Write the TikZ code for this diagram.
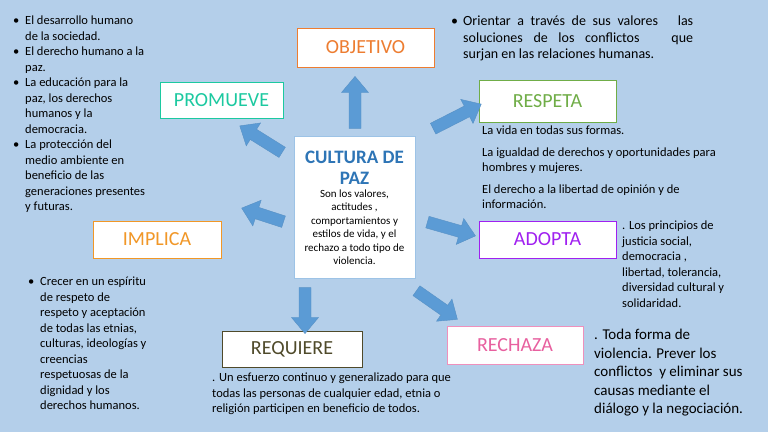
\documentclass[tikz,border=0pt]{standalone}
\usepackage{fontspec}
\setmainfont{Carlito}
\usetikzlibrary{shapes.arrows}
\definecolor{fondo}{HTML}{B4CFEA}
\definecolor{flecha}{HTML}{5B9BD5}
\definecolor{naranja}{HTML}{ED7D31}
\definecolor{verde}{HTML}{70AD47}
\definecolor{turquesa}{HTML}{1CC9A0}
\definecolor{morado}{HTML}{A020F0}
\definecolor{rosa}{HTML}{E8609F}
\definecolor{oliva}{HTML}{4F4A2A}
\definecolor{azul}{HTML}{2E75B6}
\newcommand{\vineta}{\makebox[12pt][l]{\textbullet}}
\newcommand{\sangria}{\hspace*{12pt}}
\tikzset{
  caja/.style={draw=#1,fill=white,line width=1pt,text=#1,font=\fontsize{20}{22}\selectfont,inner sep=0pt},
  flechaazul/.style={single arrow,draw=azul!80,fill=flecha,minimum width=27pt,single arrow head extend=4pt,inner sep=3pt,single arrow tip angle=80,minimum height=#1},
  texto/.style={align=left,anchor=north west,font=\fontsize{12.5}{15.5}\selectfont,inner sep=0pt}
}
\begin{document}
\begin{tikzpicture}[x=1pt,y=-1pt]
\fill[fondo] (0,0) rectangle (768,432);
\useasboundingbox (0,0) rectangle (768,432);
% cajas
\node[caja=naranja,minimum width=137pt,minimum height=39pt] (objetivo) at (365.5,47.5) {OBJETIVO};
\node[caja=turquesa,minimum width=123pt,minimum height=36pt] (promueve) at (221.5,100) {PROMUEVE};
\node[caja=verde,minimum width=137pt,minimum height=42pt] (respeta) at (547.5,101) {RESPETA};
\node[caja=naranja!80!yellow,minimum width=128pt,minimum height=37pt] (implica) at (157,239.5) {IMPLICA};
\node[caja=morado,minimum width=137pt,minimum height=37pt] (adopta) at (547.5,239.5) {ADOPTA};
\node[caja=oliva,minimum width=140pt,minimum height=36pt] (requiere) at (292,349) {REQUIERE};
\node[caja=rosa!70,text=rosa,minimum width=136pt,minimum height=38pt] (rechaza) at (515,345) {RECHAZA};
% centro
\node[draw=flecha!60,fill=white,line width=1pt,minimum width=121pt,minimum height=142pt,anchor=north,
  align=center,inner sep=0pt] (cultura) at (354.5,136) {};
\node[anchor=north,align=center,text=azul,font=\bfseries\fontsize{19}{21}\selectfont] (titulo) at (354.5,148) {CULTURA DE\\PAZ};
\node[anchor=north,align=center,font=\fontsize{11}{13.5}\selectfont,inner sep=1pt] (definicion) at (titulo.south)
  {Son los valores,\\actitudes ,\\comportamientos y\\estilos de vida, y el\\rechazo a todo tipo de\\violencia.};
% flechas
\node[flechaazul=52pt,rotate=90] (f1) at (355,106) {};
\node[flechaazul=50pt,rotate=148] (f2) at (264,141) {};
\node[flechaazul=54pt,rotate=27] (f3) at (454,118) {};
\node[flechaazul=44pt,rotate=162] (f4) at (266,216) {};
\node[flechaazul=50pt,rotate=-16] (f5) at (448,228) {};
\node[flechaazul=46pt,rotate=-90] (f6) at (305,307) {};
\node[flechaazul=50pt,rotate=-35] (f7) at (434,303) {};
% textos
\node[texto] (tpromueve) at (13,16) {\vineta El desarrollo humano\\\sangria de la sociedad.\\
\vineta El derecho humano a la\\\sangria paz.\\
\vineta La educación para la\\\sangria paz, los derechos\\\sangria humanos y la\\\sangria democracia.\\
\vineta La protección del\\\sangria medio ambiente en\\\sangria beneficio de las\\\sangria generaciones presentes\\\sangria y futuras.};
\node[texto,font=\fontsize{14}{16.5}\selectfont] (tobjetivo) at (451,16) {\vineta\makebox[230pt][s]{Orientar a través de sus valores \ \ las}\\
\sangria\makebox[230pt][s]{soluciones de los conflictos \ \ que}\\\sangria surjan en las relaciones humanas.};
\node[texto] (trespeta) at (482,126) {La vida en todas sus formas.\\[6pt]
La igualdad de derechos y oportunidades para\\hombres y mujeres.\\[6pt]
El derecho a la libertad de opinión y de\\información.};
\node[texto] (tadopta) at (622,221) {. Los principios de\\justicia social,\\democracia ,\\libertad, tolerancia,\\diversidad cultural y\\solidaridad.};
\node[texto] (timplica) at (28,277) {\vineta Crecer en un espíritu\\\sangria de respeto de\\\sangria respeto y aceptación\\\sangria de todas las etnias,\\\sangria culturas, ideologías y\\\sangria creencias\\\sangria respetuosas de la\\\sangria dignidad y los\\\sangria derechos humanos.};
\node[texto] (trequiere) at (212,373) {. Un esfuerzo continuo y generalizado para que\\todas las personas de cualquier edad, etnia o\\religión participen en beneficio de todos.};
\node[texto,font=\fontsize{15}{18.5}\selectfont] (trechaza) at (594,329) {. Toda forma de\\violencia. Prever los\\conflictos \ y eliminar sus\\causas mediante el\\diálogo y la negociación.};
\end{tikzpicture}
\end{document}
